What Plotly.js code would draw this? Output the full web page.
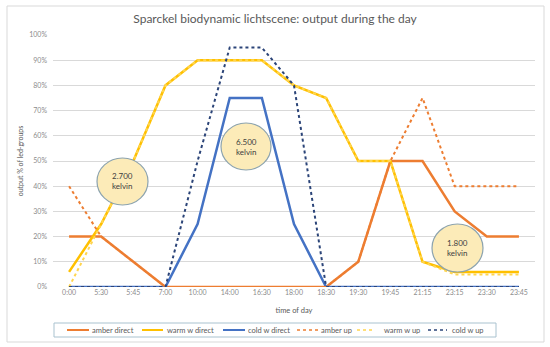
<!DOCTYPE html>
<html><head><meta charset="utf-8">
<script src="https://cdn.plot.ly/plotly-3.0.1.min.js"></script>
<style>html,body{margin:0;padding:0;background:#fff;}#c{width:550px;height:347px;}</style>
</head><body><div id="c"></div>
<script>
var times = ["0:00","5:30","5:45","7:00","10:00","14:00","16:30","18:00","18:30","19:30","19:45","21:15","23:15","23:30","23:45"];
var amberDirect = [20,20,10,0,0,0,0,0,0,10,50,50,30,20,20];
var warmDirect  = [6,25,50,80,90,90,90,80,75,50,50,10,6,6,6];
var coldDirect  = [0,0,0,0,25,75,75,25,0,0,0,0,0,0,0];
var amberUp     = [40,20,10,0,0,0,0,0,0,10,50,75,40,40,40];
var warmUp      = [0,25,50,80,90,90,90,80,75,50,50,10,5,5,5];
var coldUp      = [0,0,0,0,50,95,95,80,0,0,0,0,0,0,0];
var seriesNames = ["amber direct","warm w direct","cold w direct","amber up","warm w up","cold w up"];
var yTicks = [0,10,20,30,40,50,60,70,80,90,100];
var yTickText = yTicks.map(function(v){return v+"%";});
var bubbleLabels = ["2.700<br>kelvin","6.500<br>kelvin","1.800<br>kelvin"];

// layout (pixel) helpers
var L=53, R=535, T=35, B=287;
function px(x){return (x-L)/(R-L);}
function py(y){return (B-y)/(B-T);}
var bubbleBoxes = [[97,148,158,205],[221,271,123,170],[432,483,224,272]];
var legendItems = [[67,89,90],[142,163,165],[223,245,246],[297,318,319],[357,375,382],[428,447,450]];

var styles = [
  {color:"#ED7D31",width:2.5},
  {color:"#FFC000",width:2.5},
  {color:"#4472C4",width:2.5},
  {color:"#ED7D31",width:2,dash:"dot"},
  {color:"#FFD54F",width:2,dash:"dot"},
  {color:"#2B4478",width:2,dash:"dot"}
];
var data = [amberDirect,warmDirect,coldDirect,amberUp,warmUp,coldUp];
var traces = data.map(function(d,i){
  return {type:"scatter",mode:"lines",x:times,y:d,name:seriesNames[i],line:styles[i],showlegend:false};
});

var shapes = [{type:"rect",xref:"paper",yref:"paper",x0:px(7),x1:px(544),y0:py(342),y1:py(6),
  line:{color:"#D9D9D9",width:1},layer:"below"},
  {type:"rect",xref:"paper",yref:"paper",x0:px(54),x1:px(496),y0:py(337),y1:py(323),
  line:{color:"#A9C2CF",width:1},fillcolor:"rgba(0,0,0,0)",layer:"above"}];
var annotations = [];
bubbleBoxes.forEach(function(b,i){
  shapes.push({type:"circle",xref:"paper",yref:"paper",x0:px(b[0]),x1:px(b[1]),y0:py(b[3]),y1:py(b[2]),
    fillcolor:"#FCEBB8",line:{color:"#8CA3AE",width:1.2},layer:"above"});
  annotations.push({xref:"paper",yref:"paper",x:px((b[0]+b[1])/2),y:py((b[2]+b[3])/2),
    xanchor:"center",yanchor:"middle",text:bubbleLabels[i],
    showarrow:false,font:{size:8,color:"#404040"},align:"center"});
});
legendItems.forEach(function(it,i){
  var st = styles[i];
  shapes.push({type:"line",xref:"paper",yref:"paper",x0:px(it[0]),x1:px(it[1]),y0:py(330),y1:py(330),
    line:{color:st.color,width:st.dash?1.5:2,dash:st.dash||"solid"}});
  annotations.push({xref:"paper",yref:"paper",x:px(it[2]),y:py(330),xanchor:"left",yanchor:"middle",
    text:seriesNames[i],showarrow:false,font:{size:7.5,color:"#595959"}});
});

var layout = {
  width:550,height:347,
  margin:{l:L,r:550-R,t:T,b:347-B},
  paper_bgcolor:"#fff",plot_bgcolor:"#fff",
  font:{family:"Lato, 'Open Sans', sans-serif",color:"#595959"},
  title:{text:"Sparckel biodynamic lichtscene: output during the day",font:{size:12,color:"#595959"},x:0.5,xanchor:"center",y:0.945,yanchor:"middle"},
  xaxis:{type:"category",range:[-0.5,14.5],showgrid:false,zeroline:false,showline:false,ticks:"",
    tickfont:{size:7,color:"#8C8C8C"},
    title:{text:"time of day",font:{size:7.5,color:"#595959"},standoff:12}},
  yaxis:{range:[0,100],tickvals:yTicks,ticktext:yTickText,showgrid:true,gridcolor:"#D9D9D9",gridwidth:1,
    zeroline:false,showline:false,ticks:"",tickfont:{size:7,color:"#8C8C8C"},ticklabelstandoff:5,
    title:{text:"output % of led-groups",font:{size:7,color:"#595959"},standoff:4}},
  showlegend:false,
  shapes:shapes,annotations:annotations
};
Plotly.newPlot("c",traces,layout,{displayModeBar:false,staticPlot:true});
</script></body></html>
